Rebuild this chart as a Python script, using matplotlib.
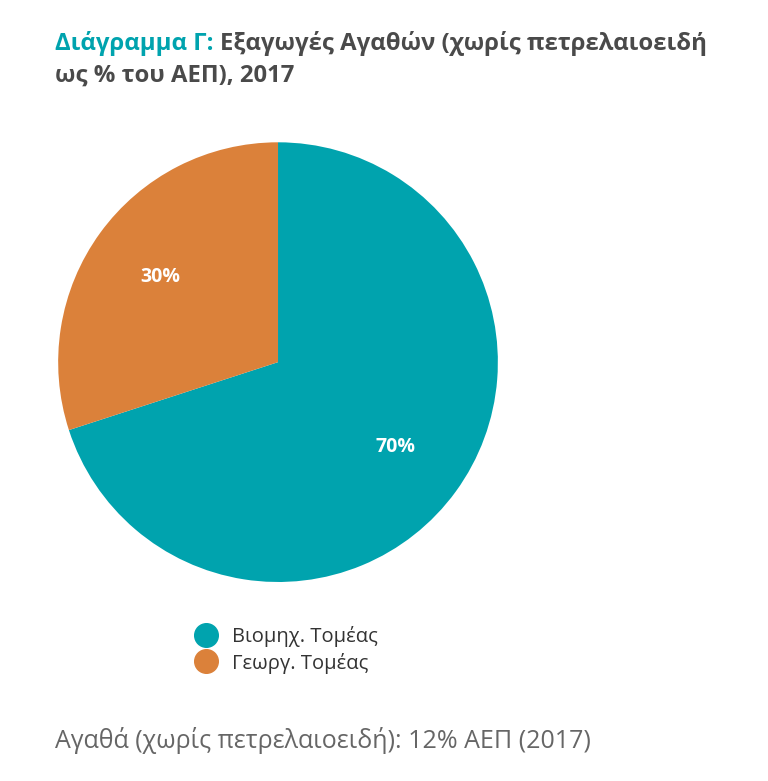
import matplotlib.pyplot as plt
from matplotlib.lines import Line2D

plt.rcParams['font.family'] = ['Open Sans', 'DejaVu Sans']

labels = ['Βιομηχ. Τομέας', 'Γεωργ. Τομέας']
values = [70, 30]
colors = ['#00A3AE', '#DB813A']

fig = plt.figure(figsize=(7.68, 7.81), dpi=100)
ax = fig.add_axes([0.0755, 0.2548, 0.573, 0.563])
ax.pie(values, colors=colors, startangle=90, counterclock=False,
       autopct='%d%%', pctdistance=0.66,
       textprops=dict(color='white', fontsize=14, fontweight='bold'))
ax.set_xlim(-1, 1)
ax.set_ylim(-1, 1)
ax.set_aspect('equal')

# title, two colours on the first line
t1 = fig.text(55 / 768, 1 - 50 / 781, 'Διάγραμμα Γ:', color='#00A3AE',
              fontsize=17.2, fontweight='bold', va='baseline')
fig.canvas.draw()
bb = t1.get_window_extent()
fig.text(bb.x1 / 768 + 0.008, 1 - 50 / 781, 'Εξαγωγές Αγαθών (χωρίς πετρελαιοειδή',
         color='#4a4a4a', fontsize=17.2, fontweight='bold', va='baseline')
fig.text(55 / 768, 1 - 82 / 781, 'ως % του ΑΕΠ), 2017', color='#4a4a4a',
         fontsize=17.2, fontweight='bold', va='baseline')

handles = [Line2D([], [], marker='o', ls='', markersize=17, color=c) for c in colors]
fig.legend(handles, labels, loc='center left', bbox_to_anchor=(168 / 768, 1 - 650 / 781),
           frameon=False, fontsize=14.5, handletextpad=0.3, labelspacing=0.25,
           labelcolor='#333333')

fig.text(55 / 768, 1 - 740 / 781, 'Αγαθά (χωρίς πετρελαιοειδή): 12% ΑΕΠ (2017)',
         color='#666666', fontsize=18, va='center')

fig.savefig('out.png', dpi=100)
